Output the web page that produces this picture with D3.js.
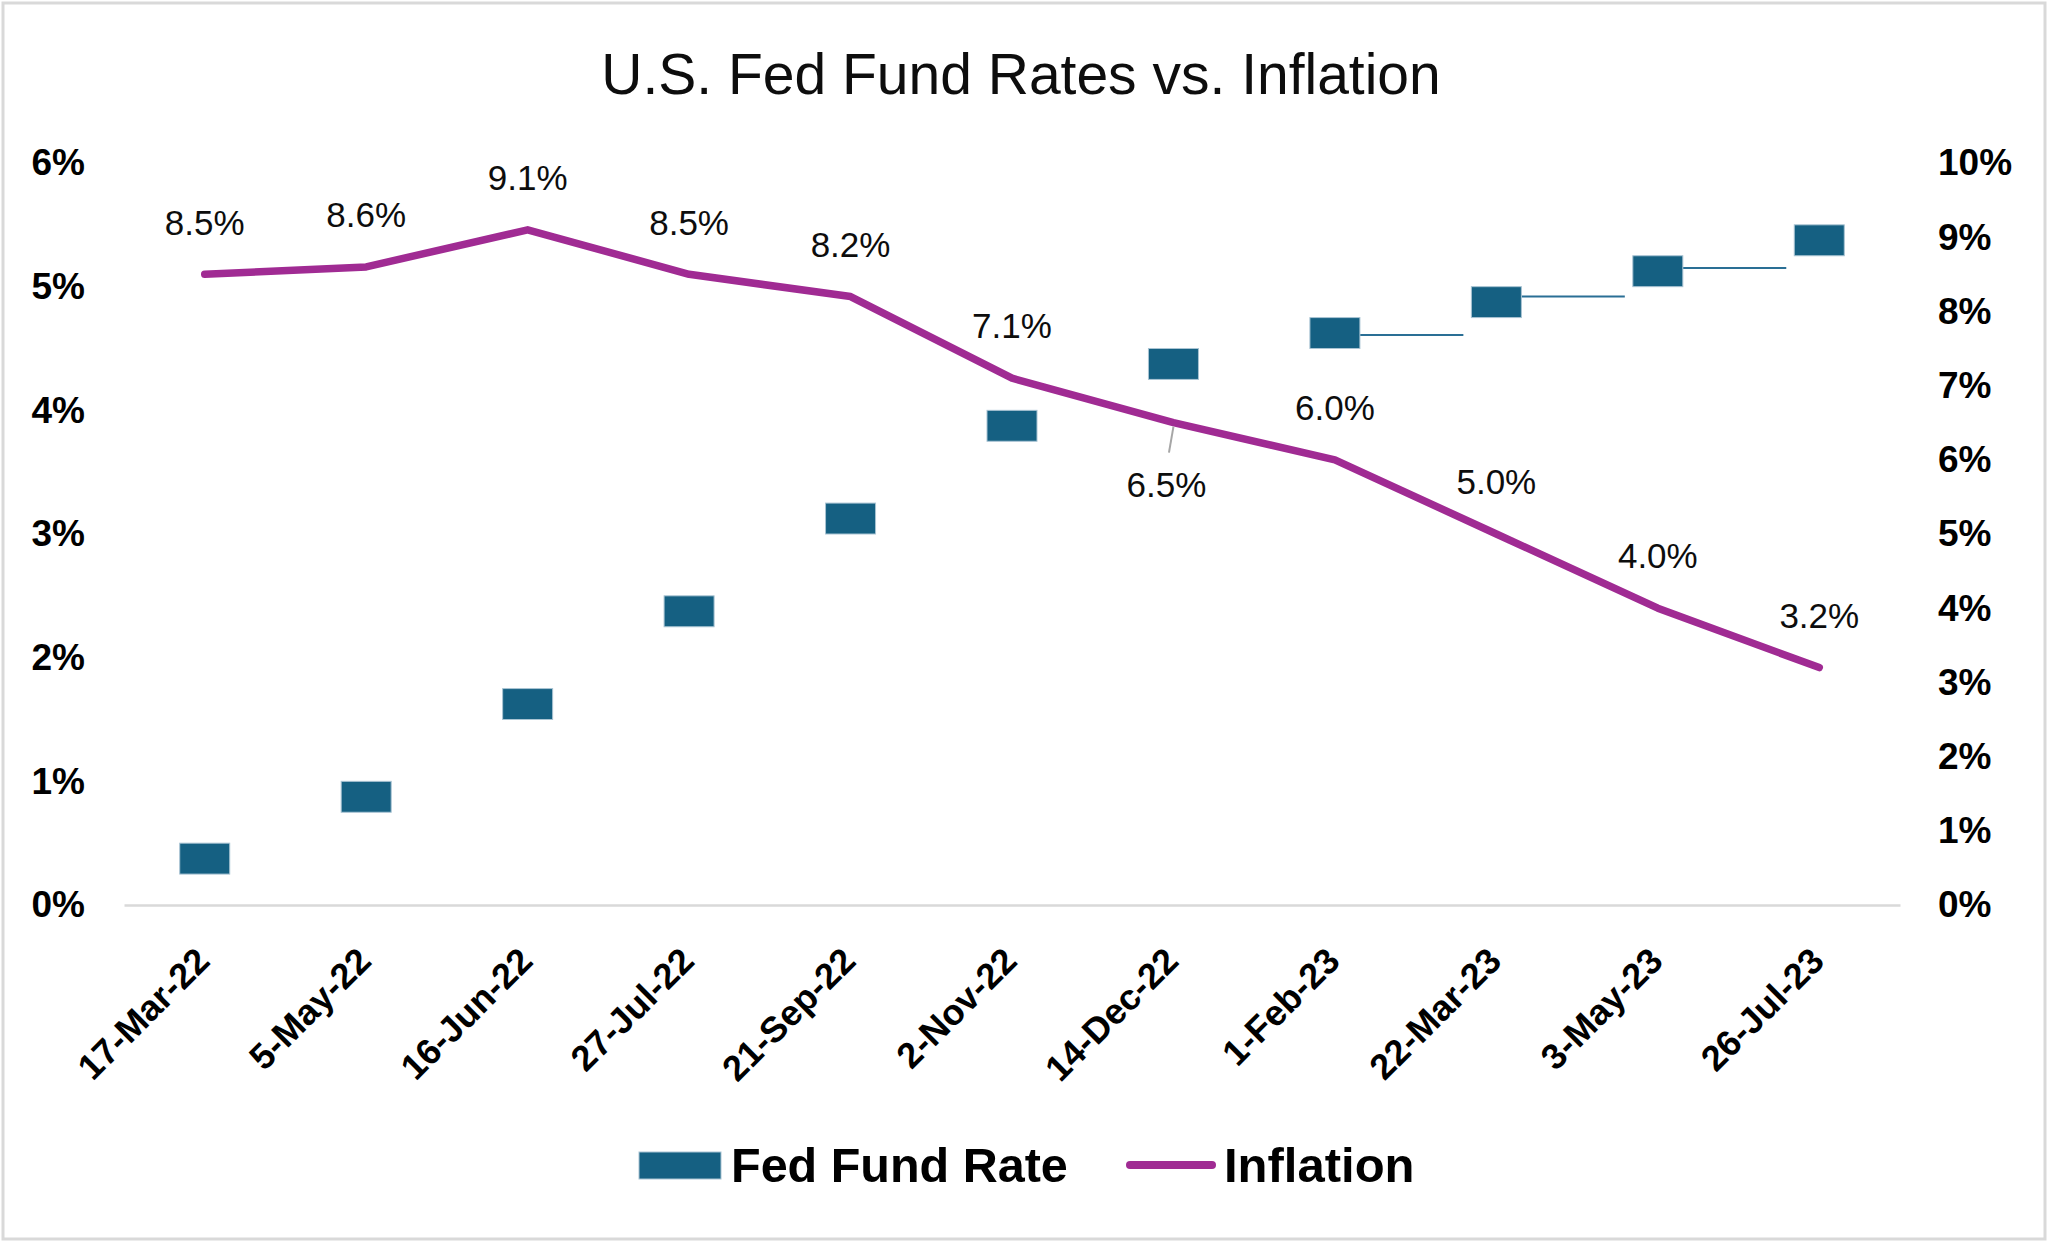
<!DOCTYPE html>
<html>
<head>
<meta charset="utf-8">
<script src="https://cdn.jsdelivr.net/npm/d3@7"></script>
<style>
  body { margin: 0; background: #fff; }
  svg { display: block; }
  text { font-family: "Liberation Sans", Arial, sans-serif; }
</style>
</head>
<body>
<div id="chart"></div>
<script>
// meeting dates
const dates = ["17-Mar-22", "5-May-22", "16-Jun-22", "27-Jul-22", "21-Sep-22", "2-Nov-22",
  "14-Dec-22", "1-Feb-23", "22-Mar-23", "3-May-23", "26-Jul-23"];
// fed fund target range (lower / upper bound, %)
const fedLow = [0.25, 0.75, 1.5, 2.25, 3.0, 3.75, 4.25, 4.5, 4.75, 5.0, 5.25];
const fedHigh = [0.5, 1.0, 1.75, 2.5, 3.25, 4.0, 4.5, 4.75, 5.0, 5.25, 5.5];
// CPI inflation, %
const inflation = [8.5, 8.6, 9.1, 8.5, 8.2, 7.1, 6.5, 6.0, 5.0, 4.0, 3.2];
// thin lines joining the last few markers
const connFrom = ["1-Feb-23", "22-Mar-23", "3-May-23"];
const connLevel = [4.61, 4.92, 5.15];
const leftTicks = [0, 1, 2, 3, 4, 5, 6];
const rightTicks = [0, 1, 2, 3, 4, 5, 6, 7, 8, 9, 10];

const W = 2048, H = 1243;
const fedColor = "#156082", inflColor = "#A02B93";

const svg = d3.select("#chart").append("svg")
  .attr("width", W)
  .attr("height", H);

svg.append("rect")
  .attr("x", 3).attr("y", 3)
  .attr("width", W - 6).attr("height", H - 7)
  .attr("fill", "#fff")
  .attr("stroke", "#d9d9d9")
  .attr("stroke-width", 3);

const x = d3.scaleBand().domain(dates).range([124, 1900]);
const cx = (d) => x(d) + x.bandwidth() / 2;
const yL = d3.scaleLinear().domain([0, 6]).range([905, 163]);
const yR = d3.scaleLinear().domain([0, 10]).range([905, 163]);

// title
svg.append("text")
  .attr("x", 1021)
  .attr("y", 74)
  .attr("dy", "0.35em")
  .attr("text-anchor", "middle")
  .attr("font-size", 57)
  .attr("fill", "#0d0d0d")
  .text("U.S. Fed Fund Rates vs. Inflation");

// left axis
const gl = svg.append("g")
  .attr("transform", "translate(85,0)")
  .call(d3.axisLeft(yL).tickValues(leftTicks).tickFormat((d) => d + "%").tickSize(0).tickPadding(0));
gl.select(".domain").remove();

// right axis
const gr = svg.append("g")
  .attr("transform", "translate(1938,0)")
  .call(d3.axisRight(yR).tickValues(rightTicks).tickFormat((d) => d + "%").tickSize(0).tickPadding(0));
gr.select(".domain").remove();

svg.selectAll(".tick text")
  .attr("font-family", "'Liberation Sans', Arial, sans-serif")
  .attr("font-size", 37)
  .attr("font-weight", "bold")
  .attr("fill", "#000");

// x axis
const gx = svg.append("g")
  .attr("transform", "translate(0,905)")
  .call(d3.axisBottom(x).tickSize(0).tickSizeOuter(0));
gx.select(".domain")
  .attr("stroke", "#d9d9d9")
  .attr("stroke-width", 2.5);
gx.selectAll("text")
  .attr("x", 0).attr("y", 0).attr("dy", 0)
  .attr("text-anchor", "end")
  .attr("transform", "translate(7,58) rotate(-45)")
  .attr("font-family", "'Liberation Sans', Arial, sans-serif")
  .attr("font-size", 36)
  .attr("font-weight", "bold")
  .attr("fill", "#000");

// connector lines
svg.append("g").selectAll("line")
  .data(connFrom)
  .join("line")
  .attr("x1", (d) => cx(d) + 25)
  .attr("x2", (d) => cx(dates[dates.indexOf(d) + 1]) - 33)
  .attr("y1", (d, i) => yL(connLevel[i]))
  .attr("y2", (d, i) => yL(connLevel[i]))
  .attr("stroke", "#2a6f95")
  .attr("stroke-width", 2);

// fed fund markers
svg.append("g").selectAll("rect")
  .data(dates)
  .join("rect")
  .attr("x", (d) => cx(d) - 25)
  .attr("width", 50)
  .attr("y", (d, i) => yL(fedHigh[i]))
  .attr("height", (d, i) => yL(fedLow[i]) - yL(fedHigh[i]))
  .attr("fill", fedColor)
  .attr("stroke", "#a9c4d3")
  .attr("stroke-width", 1);

// inflation line
const line = d3.line()
  .x((d, i) => cx(dates[i]))
  .y((d) => yR(d));

svg.append("path")
  .datum(inflation)
  .attr("d", line)
  .attr("fill", "none")
  .attr("stroke", inflColor)
  .attr("stroke-width", 7.5)
  .attr("stroke-linecap", "round")
  .attr("stroke-linejoin", "round");

// data labels
const below = "14-Dec-22";
const lbl = svg.append("g");
dates.forEach((d, i) => {
  const px = cx(d), py = yR(inflation[i]);
  if (d === below) {
    lbl.append("line")
      .attr("x1", px).attr("y1", py + 4)
      .attr("x2", px - 4.5).attr("y2", py + 30)
      .attr("stroke", "#a6a6a6")
      .attr("stroke-width", 2);
  }
  lbl.append("text")
    .attr("x", d === below ? px - 7 : px)
    .attr("y", d === below ? py + 62 : py - 52)
    .attr("dy", "0.35em")
    .attr("text-anchor", "middle")
    .attr("font-size", 35)
    .attr("fill", "#0d0d0d")
    .text(inflation[i].toFixed(1) + "%");
});

// legend
const lg = svg.append("g");
lg.append("rect")
  .attr("x", 639).attr("y", 1152)
  .attr("width", 82).attr("height", 27)
  .attr("fill", fedColor)
  .attr("stroke", "#a9c4d3")
  .attr("stroke-width", 1);
lg.append("text")
  .attr("x", 731).attr("y", 1165)
  .attr("dy", "0.35em")
  .attr("font-size", 48.5)
  .attr("font-weight", "bold")
  .text("Fed Fund Rate");
lg.append("line")
  .attr("x1", 1130).attr("x2", 1212)
  .attr("y1", 1165).attr("y2", 1165)
  .attr("stroke", inflColor)
  .attr("stroke-width", 8)
  .attr("stroke-linecap", "round");
lg.append("text")
  .attr("x", 1224).attr("y", 1165)
  .attr("dy", "0.35em")
  .attr("font-size", 49)
  .attr("font-weight", "bold")
  .text("Inflation");
</script>
</body>
</html>
